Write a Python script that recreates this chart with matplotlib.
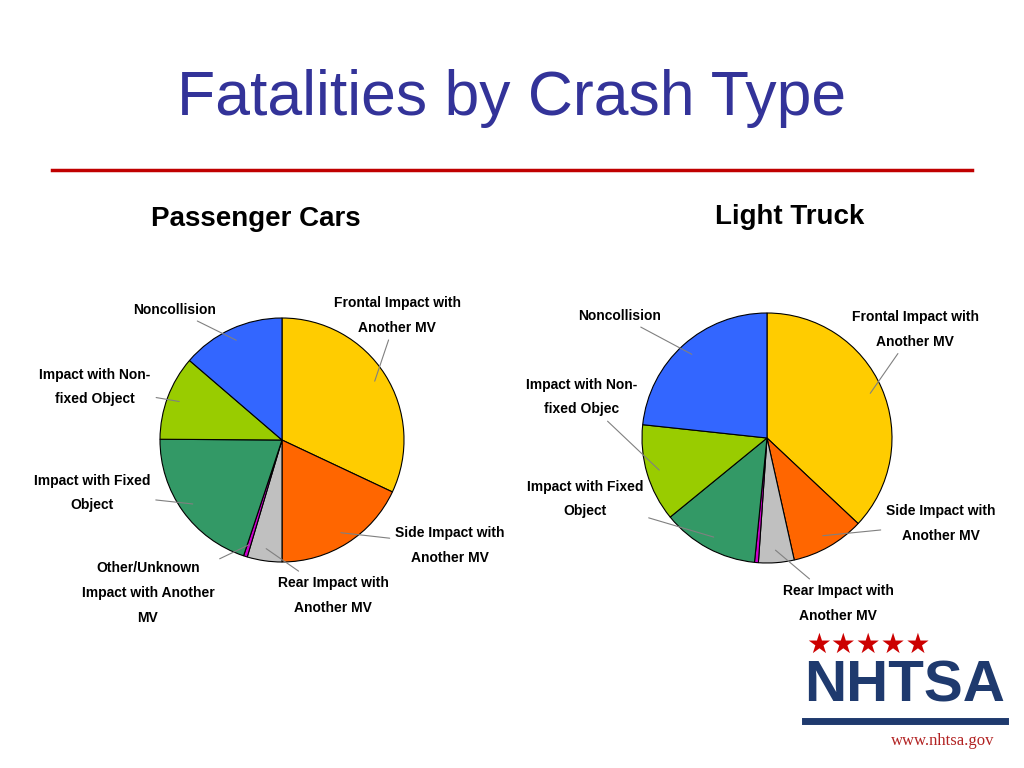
import numpy as np
import matplotlib
matplotlib.use("Agg")
import matplotlib.pyplot as plt

plt.rcParams['font.family'] = ['Liberation Sans', 'DejaVu Sans']

categories = ["Frontal Impact with Another MV", "Side Impact with Another MV",
              "Rear Impact with Another MV", "Other/Unknown Impact with Another MV",
              "Impact with Fixed Object", "Impact with Non-fixed Object", "Noncollision"]
cars = [32.0, 18.0, 4.6, 0.5, 20.0, 11.2, 13.7]
trucks = [37.0, 9.5, 4.6, 0.5, 12.5, 12.6, 23.3]
colors = ["#FFCC00", "#FF6600", "#C0C0C0", "#CC00CC", "#339966", "#99CC00", "#3366FF"]

W, H = 1024, 768
fig = plt.figure(figsize=(10.24, 7.68), dpi=100)
fig.patch.set_facecolor("white")

fig.text(512/W, 1-98/H, "Fatalities by Crash Type", ha="center", va="center",
         fontsize=45, color="#333399")
fig.add_artist(plt.Line2D([52/W, 972/W], [1-170/H, 1-170/H], color="#C00000", lw=2.5))
fig.text(256/W, 1-219/H, "Passenger Cars", ha="center", va="center", fontsize=20, fontweight="bold")
fig.text(790/W, 1-217/H, "Light Truck", ha="center", va="center", fontsize=20, fontweight="bold")

def make_pie(cx, cy, r, vals, labels):
    ax = fig.add_axes([(cx-r)/W, (H-cy-r)/H, 2*r/W, 2*r/H])
    wedges, _ = ax.pie(vals, colors=colors, startangle=90, counterclock=False,
                       wedgeprops=dict(edgecolor="black", linewidth=0.8))
    ax.set_xlim(-1, 1); ax.set_ylim(-1, 1); ax.set_aspect("equal")
    ax.axis("off")
    for i, (txt, tx, ty) in labels.items():
        w = wedges[i]
        a = (w.theta1 + w.theta2) / 2
        p = (0.9*np.cos(np.radians(a)), 0.9*np.sin(np.radians(a)))
        ax.annotate(txt, xy=p, xycoords="data", xytext=(tx, H-ty), textcoords="figure pixels",
                    ha="center", va="center", fontsize=10, fontweight="bold",
                    linespacing=2.0, annotation_clip=False,
                    arrowprops=dict(arrowstyle="-", color="#808080", lw=0.8, shrinkA=2, shrinkB=0))
    return ax

make_pie(282, 440, 122, cars, {
    0: ("Frontal Impact with\nAnother MV", 397, 315),
    1: ("Side Impact with\nAnother MV", 450, 545),
    2: ("Rear Impact with\nAnother MV", 333, 595),
    3: ("Other/Unknown\nImpact with Another\nMV", 148, 593),
    4: ("Impact with Fixed\nObject", 92, 493),
    5: ("Impact with Non-\nfixed Object", 95, 387),
    6: ("Noncollision", 175, 310),
})
make_pie(767, 438, 125, trucks, {
    0: ("Frontal Impact with\nAnother MV", 915, 329),
    1: ("Side Impact with\nAnother MV", 941, 524),
    2: ("Rear Impact with\nAnother MV", 838, 603),
    4: ("Impact with Fixed\nObject", 585, 499),
    5: ("Impact with Non-\nfixed Objec", 582, 397),
    6: ("Noncollision", 620, 316),
})

# NHTSA logo
fig.text(868/W, 1-645/H, "★★★★★", ha="center", va="center", fontsize=20, color="#CC0000",
         family=["DejaVu Sans"])
fig.text(905/W, 1-687/H, "NHTSA", ha="center", va="center", fontsize=42, fontweight="bold",
         color="#1F3A6E")
fig.add_artist(plt.Line2D([805/W, 1005/W], [1-721/H, 1-721/H], color="#1F3A6E", lw=5))
fig.text(943/W, 1-741/H, "www.nhtsa.gov", ha="center", va="center", fontsize=12,
         color="#B22222", family=["Liberation Serif"])

fig.savefig("out.png", dpi=100)
